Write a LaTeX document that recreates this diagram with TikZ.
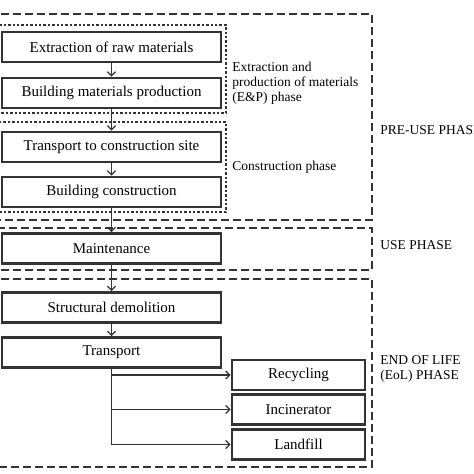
\documentclass[tikz,border=0pt]{standalone}
\usepackage{fontspec}
\setmainfont{Liberation Serif}
\usepackage{xcolor}
\usetikzlibrary{arrows.meta}
\definecolor{linegray}{HTML}{333333}
\begin{document}
\begin{tikzpicture}[x=1pt,y=-1pt,thick,
  stage/.style={draw=linegray,line width=2.8pt,fill=white,minimum width=219pt,minimum height=30pt,inner sep=0pt,font=\fontsize{15}{16}\selectfont},
  endbox/.style={stage,minimum width=133pt},
  phase/.style={draw=linegray,line width=2.8pt,dash pattern=on 8pt off 4pt},
  subphase/.style={draw=linegray,line width=2.6pt,dash pattern=on 2.4pt off 2pt},
  flow/.style={draw=linegray,line width=1.3pt,-{Straight Barb[length=4pt,width=8pt]}},
  label/.style={anchor=west,align=left,inner sep=0pt,font=\fontsize{13.5}{15}\selectfont}]
\useasboundingbox (0,0) rectangle (474,474);
\draw[phase] (-5,14) rectangle (372,220);
\draw[phase] (-5,228) rectangle (372,270);
\draw[phase] (-5,279) rectangle (372,467);
\draw[subphase] (-3,25) rectangle (226,113);
\draw[subphase] (-3,122) rectangle (226,212);
\node[stage] (extraction) at (111.5,47) {Extraction of raw materials};
\node[stage] (production) at (111.5,93) {Building materials production};
\node[stage] (transport) at (111.5,147) {Transport to construction site};
\node[stage] (construction) at (111.5,192) {Building construction};
\node[stage] (maintenance) at (111.5,248.5) {Maintenance};
\node[stage] (demolition) at (111.5,307.5) {Structural demolition};
\node[stage] (eoltransport) at (111.5,352.5) {Transport};
\node[endbox] (recycling) at (298.5,375) {Recycling};
\node[endbox] (incinerator) at (298.5,409.5) {Incinerator};
\node[endbox] (landfill) at (298.5,444.5) {Landfill};
\draw[flow] (extraction) -- (production);
\draw[flow] (production) -- (transport);
\draw[flow] (transport) -- (construction);
\draw[flow] (construction) -- (maintenance);
\draw[flow] (maintenance) -- (demolition);
\draw[flow] (demolition) -- (eoltransport);
\draw[draw=linegray,line width=1.3pt] (eoltransport.south) -- (eoltransport.south |- landfill.west);
\draw[flow] (eoltransport.south |- recycling.west) -- (recycling.west);
\draw[flow] (eoltransport.south |- incinerator.west) -- (incinerator.west);
\draw[flow] (eoltransport.south |- landfill.west) -- (landfill.west);
\node[label] (epphase) at (232,83) {Extraction and\\production of materials\\(E\&P) phase};
\node[label] (constrphase) at (232,167) {Construction phase};
\node[label] (preuse) at (380,130) {PRE-USE PHASE};
\node[label] (use) at (380,245) {USE PHASE};
\node[label] (eol) at (380,369) {END OF LIFE\\(EoL) PHASE};
\end{tikzpicture}
\end{document}
